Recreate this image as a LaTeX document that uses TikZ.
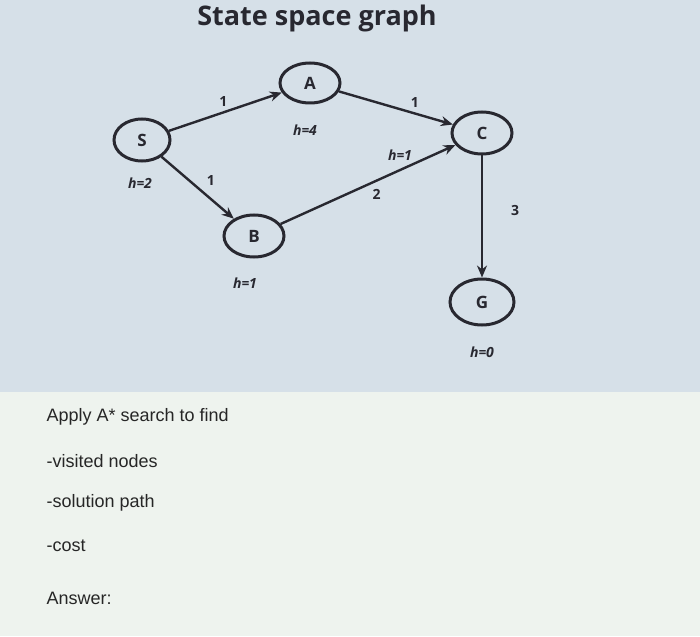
\documentclass[tikz,border=0pt]{standalone}
\usepackage{fontspec}
\setmainfont{Liberation Sans}
\setsansfont{Open Sans}
\usetikzlibrary{shapes.geometric,arrows.meta}
\definecolor{topbg}{RGB}{214,224,232}
\definecolor{botbg}{RGB}{238,243,238}
\definecolor{ink}{RGB}{40,40,48}
\tikzset{
  st/.style={ellipse,draw=ink,line width=3pt,minimum width=#1,minimum height=42pt,font=\sffamily\bfseries\fontsize{17}{17}\selectfont,text=ink,fill=topbg},
  hl/.style={font=\sffamily\bfseries\itshape\fontsize{14}{14}\selectfont,text=ink},
  wl/.style={font=\sffamily\bfseries\fontsize{14}{14}\selectfont,text=ink},
  ar/.style={-{Stealth[length=12pt,width=10pt]},line width=2.4pt,draw=ink},
  qt/.style={anchor=west,font=\fontsize{18}{18}\selectfont,text=black!85}
}
\begin{document}
\begin{tikzpicture}[x=1pt,y=-1pt]
\fill[topbg] (0,0) rectangle (700,392);
\fill[botbg] (0,392) rectangle (700,636);
\useasboundingbox (0,0) rectangle (700,636);
\node[font=\sffamily\bfseries\fontsize{27}{27}\selectfont,text=ink] (title) at (317,18) {State space graph};
\node[st=56pt] (S) at (142,140) {S};
\node[st=60pt,minimum height=40pt] (A) at (310,83) {A};
\node[st=60pt] (C) at (482,133) {C};
\node[st=60pt] (B) at (254,236) {B};
\node[st=64pt,minimum height=46pt] (G) at (482,302) {G};
\draw[ar] (S) -- node[wl,pos=0.55,above left=-1pt] {1} (A);
\draw[ar] (A) -- node[wl,pos=0.6,above right=-1pt] {1} (C);
\draw[ar] (S) -- node[wl,pos=0.55,above right=1pt] {1} (B);
\draw[ar] (B) -- node[wl,pos=0.5,below right=0pt] {2} (C);
\draw[ar] (C) -- (G);
\node[wl] (w3) at (515,210) {3};
\node[hl] (hS) at (140,183) {h=2};
\node[hl] (hA) at (305,130) {h=4};
\node[hl] (hC) at (400,155) {h=1};
\node[hl] (hB) at (245,283) {h=1};
\node[hl] (hG) at (482,352) {h=0};
\node[qt] (q1) at (43,417) {Apply A* search to find};
\node[qt] (q2) at (43,461) {-visited nodes};
\node[qt] (q3) at (43,503) {-solution path};
\node[qt] (q4) at (43,546) {-cost};
\node[qt] (q5) at (43,598) {Answer:};
\end{tikzpicture}
\end{document}
